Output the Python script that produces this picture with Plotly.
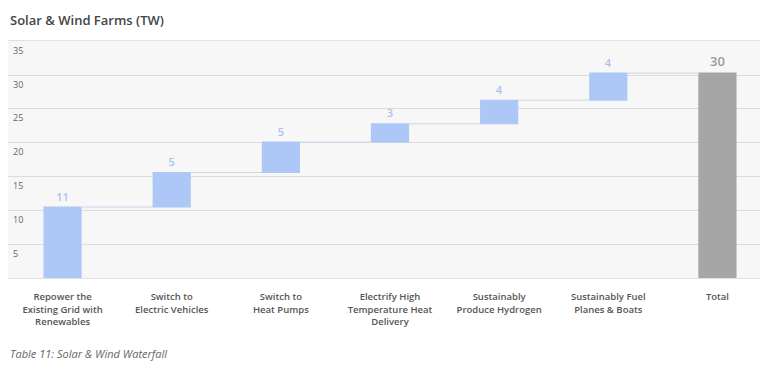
import plotly.graph_objects as go

categories = [
    "Repower the<br>Existing Grid with<br>Renewables",
    "Switch to<br>Electric Vehicles",
    "Switch to<br>Heat Pumps",
    "Electrify High<br>Temperature Heat<br>Delivery",
    "Sustainably<br>Produce Hydrogen",
    "Sustainably Fuel<br>Planes & Boats",
    "Total",
]
values = [10.5, 5.1, 4.5, 2.7, 3.5, 4.0, 0]
measures = ["relative"] * 6 + ["total"]
value_labels = ["11", "5", "5", "3", "4", "4", "30"]
y_ticks = [5, 10, 15, 20, 25, 30, 35]

BLUE = "#adc8f6"
GREY = "#a6a6a6"

fig = go.Figure(go.Waterfall(
    x=categories,
    y=values,
    measure=measures,
    text=value_labels,
    textposition="outside",
    textfont=dict(size=[11] * 6 + [13], color=["#a9c3ee"] * 6 + ["#9a9a9a"],
                  family="Open Sans", weight=600),
    increasing=dict(marker=dict(color=BLUE)),
    totals=dict(marker=dict(color=GREY)),
    connector=dict(line=dict(color="#c9d6ea", width=1)),
    width=0.35,
    cliponaxis=False,
    hoverinfo="skip",
))

tick_annotations = [
    dict(text=str(v), xref="paper", yref="y", x=0, y=v,
         xanchor="left", yanchor="middle", xshift=3, yshift=-9,
         showarrow=False, font=dict(size=9, color="#666"))
    for v in y_ticks
]

fig.update_layout(
    width=768, height=392,
    margin=dict(l=0, r=4, t=33, b=122),
    paper_bgcolor="white",
    plot_bgcolor="#f7f7f7",
    showlegend=False,
    font=dict(family="Open Sans", color="#555"),
    xaxis=dict(
        range=[-0.5, 6.5],
        showgrid=False,
        tickfont=dict(size=9.5, color="#555", weight=600),
        ticks="", ticklabelstandoff=10,
        showline=True, linecolor="#e2e2e2", mirror=True,
        fixedrange=True,
    ),
    yaxis=dict(
        range=[0, 35.05],
        tickvals=y_ticks,
        showticklabels=False,
        showgrid=True, gridcolor="#dcdcdc", gridwidth=1,
        zeroline=False,
        showline=True, linecolor="#e2e2e2", mirror=True,
        fixedrange=True,
    ),
    annotations=tick_annotations + [
        dict(text="Solar & Wind Farms (TW)", xref="paper", yref="paper",
             x=0, y=1, xanchor="left", yanchor="middle", yshift=21,
             showarrow=False, font=dict(size=13, color="#444", weight=600)),
        dict(text="<i>Table 11: Solar & Wind Waterfall</i>", xref="paper", yref="paper",
             x=0, y=0, xanchor="left", yanchor="middle", yshift=-75,
             showarrow=False, font=dict(size=11, color="#666")),
    ],
)

fig.write_html("out.html")
